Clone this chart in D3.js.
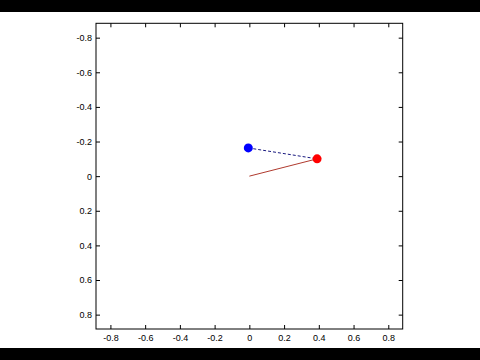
<!DOCTYPE html>
<html>
<head>
<meta charset="utf-8">
<script src="https://cdn.jsdelivr.net/npm/d3@7"></script>
<style>
html,body{margin:0;padding:0;background:#fff;}
svg{display:block;}
</style>
</head>
<body>
<svg id="chart" width="480" height="360"></svg>
<script>
const axisDomain = [-0.883, 0.883];
const tickValues = [-0.8, -0.6, -0.4, -0.2, 0, 0.2, 0.4, 0.6, 0.8];
const tickLabels = ["-0.8", "-0.6", "-0.4", "-0.2", "0", "0.2", "0.4", "0.6", "0.8"];
const originPoint = [0, 0];
const redPoint = [0.39, -0.10];
const bluePoint = [-0.006, -0.163];

(function(){
const svg = d3.select("#chart");
const W = 480, H = 360;
const pL = 96, pR = 402.7, pT = 23.3, pB = 329;

svg.append("rect").attr("x",0).attr("y",0).attr("width",W).attr("height",H).attr("fill","#fff");
svg.append("rect").attr("x",0).attr("y",0).attr("width",W).attr("height",12).attr("fill","#000");
svg.append("rect").attr("x",0).attr("y",348).attr("width",W).attr("height",12).attr("fill","#000");

const x = d3.scaleLinear().domain(axisDomain).range([pL, pR]);
const y = d3.scaleLinear().domain(axisDomain).range([pT, pB]);
const fmt = d => tickLabels[tickValues.findIndex(v => Math.abs(v - d) < 1e-9)];

function style(g){
  g.selectAll(".domain").remove();
  g.selectAll(".tick line").attr("stroke","#000").attr("stroke-width",1);
  g.selectAll(".tick text").attr("fill","#000").style("font-family","'Liberation Sans', Arial, sans-serif").style("font-size","9px");
}

svg.append("g").attr("transform",`translate(0,${pB})`)
  .call(d3.axisBottom(x).tickValues(tickValues).tickFormat(fmt).tickSizeInner(-4).tickSizeOuter(0).tickPadding(6))
  .call(style);
svg.append("g").attr("transform",`translate(0,${pT})`)
  .call(d3.axisTop(x).tickValues(tickValues).tickFormat("").tickSizeInner(-4).tickSizeOuter(0))
  .call(style);
svg.append("g").attr("transform",`translate(${pL},0)`)
  .call(d3.axisLeft(y).tickValues(tickValues).tickFormat(fmt).tickSizeInner(-4).tickSizeOuter(0).tickPadding(4))
  .call(style);
svg.append("g").attr("transform",`translate(${pR},0)`)
  .call(d3.axisRight(y).tickValues(tickValues).tickFormat("").tickSizeInner(-4).tickSizeOuter(0))
  .call(style);

svg.append("rect").attr("x",pL).attr("y",pT).attr("width",pR-pL).attr("height",pB-pT)
  .attr("fill","none").attr("stroke","#000").attr("stroke-width",1);

svg.append("line")
  .attr("x1",x(originPoint[0])).attr("y1",y(originPoint[1]))
  .attr("x2",x(redPoint[0])).attr("y2",y(redPoint[1]))
  .attr("stroke","#b03a2e").attr("stroke-width",1);
svg.append("line")
  .attr("x1",x(bluePoint[0])).attr("y1",y(bluePoint[1]))
  .attr("x2",x(redPoint[0])).attr("y2",y(redPoint[1]))
  .attr("stroke","#1a1a80").attr("stroke-width",1).attr("stroke-dasharray","3,2");

svg.append("circle").attr("cx",x(bluePoint[0])).attr("cy",y(bluePoint[1])).attr("r",4.5).attr("fill","#0000ff");
svg.append("circle").attr("cx",x(redPoint[0])).attr("cy",y(redPoint[1])).attr("r",4.5).attr("fill","#ff0000");
})();
</script>
</body>
</html>
